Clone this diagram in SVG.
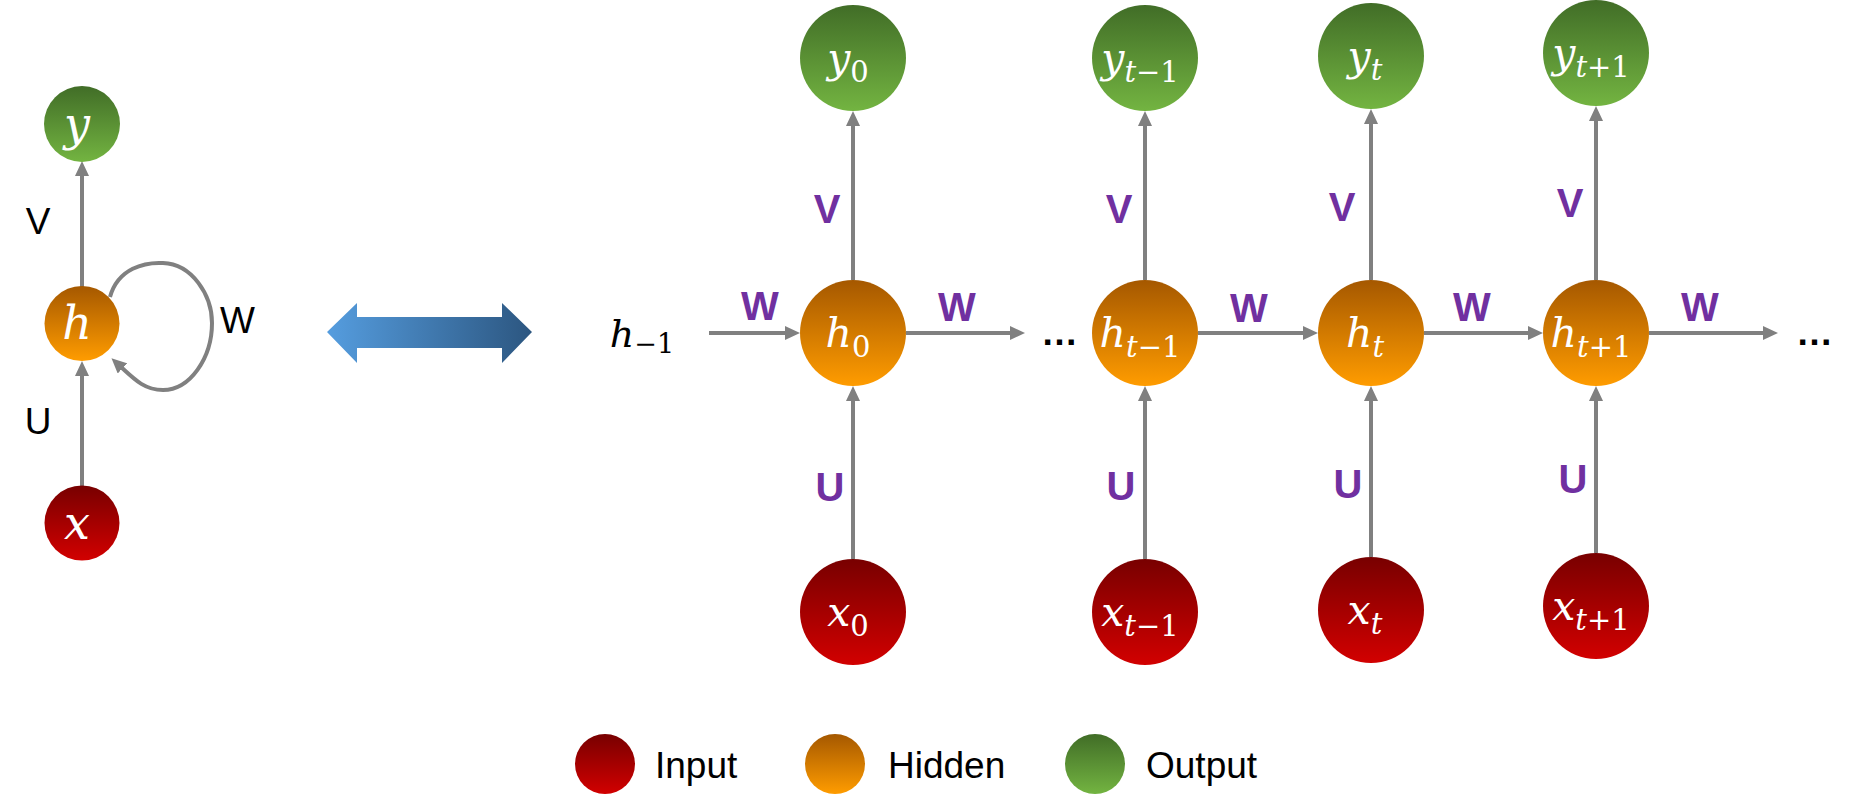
<svg xmlns="http://www.w3.org/2000/svg" width="1854" height="808" viewBox="0 0 1854 808">
<style>
.ln{stroke:#808080;stroke-width:4;fill:none}
.m{font-family:"DejaVu Serif",serif;font-style:italic;font-size:41px;fill:#fff;text-anchor:middle}
.ml{font-family:"DejaVu Serif",serif;font-style:italic;font-size:46px;fill:#fff;text-anchor:middle}
.s{font-size:29px;font-style:normal}
.si{font-size:29px;font-style:italic}
.p{font-family:"Liberation Sans",Arial,sans-serif;font-weight:bold;font-size:40px;fill:#7030a0;text-anchor:middle}
.k{font-family:"Liberation Sans",Arial,sans-serif;font-size:37px;fill:#000}
</style>
<defs>
<linearGradient id="gG" x1="0" y1="0" x2="0" y2="1"><stop offset="0" stop-color="#416d27"/><stop offset="1" stop-color="#73b441"/></linearGradient>
<linearGradient id="gO" x1="0" y1="0" x2="0" y2="1"><stop offset="0" stop-color="#a55800"/><stop offset="1" stop-color="#ff9c00"/></linearGradient>
<linearGradient id="gR" x1="0" y1="0" x2="0" y2="1"><stop offset="0" stop-color="#780000"/><stop offset="1" stop-color="#d20000"/></linearGradient>
<linearGradient id="gB" x1="0" y1="0" x2="1" y2="0"><stop offset="0" stop-color="#559ddf"/><stop offset="1" stop-color="#2c5680"/></linearGradient>
<marker id="ah" viewBox="0 0 15 14" refX="2" refY="7" markerWidth="15" markerHeight="14" markerUnits="userSpaceOnUse" orient="auto"><path d="M0,0 L15,7 L0,14 z" fill="#808080"/></marker>
</defs>

<g id="connectors">
<line class="ln" x1="82" y1="287" x2="82" y2="174" marker-end="url(#ah)"/>
<line class="ln" x1="82" y1="486" x2="82" y2="374" marker-end="url(#ah)"/>
<path class="ln" d="M110,297 C118,268 145,262 163,263 C192,264 212,295 212,323 C212,358 190,390 163,390 C145,390 135,380 121,367" marker-end="url(#ah)"/>
<line class="ln" x1="709" y1="333" x2="787" y2="333" marker-end="url(#ah)"/>
<line class="ln" x1="906" y1="333" x2="1012" y2="333" marker-end="url(#ah)"/>
<line class="ln" x1="1198" y1="333" x2="1305" y2="333" marker-end="url(#ah)"/>
<line class="ln" x1="1424" y1="333" x2="1530" y2="333" marker-end="url(#ah)"/>
<line class="ln" x1="1649" y1="333" x2="1765" y2="333" marker-end="url(#ah)"/>
<line class="ln" x1="853" y1="280" x2="853" y2="124" marker-end="url(#ah)"/>
<line class="ln" x1="1145" y1="280" x2="1145" y2="124" marker-end="url(#ah)"/>
<line class="ln" x1="1371" y1="280" x2="1371" y2="122" marker-end="url(#ah)"/>
<line class="ln" x1="1596" y1="280" x2="1596" y2="119" marker-end="url(#ah)"/>
<line class="ln" x1="853" y1="559" x2="853" y2="399" marker-end="url(#ah)"/>
<line class="ln" x1="1145" y1="559" x2="1145" y2="399" marker-end="url(#ah)"/>
<line class="ln" x1="1371" y1="557" x2="1371" y2="399" marker-end="url(#ah)"/>
<line class="ln" x1="1596" y1="553" x2="1596" y2="399" marker-end="url(#ah)"/>
</g>

<g id="labels-folded">
<text class="k" x="38" y="234" text-anchor="middle">V</text>
<text class="k" x="38" y="434" text-anchor="middle">U</text>
<text class="k" x="220" y="333">W</text>
</g>

<g id="labels-unrolled">
<text class="p" x="760" y="320">W</text>
<text class="p" x="957" y="321">W</text>
<text class="p" x="1249" y="322">W</text>
<text class="p" x="1472" y="321">W</text>
<text class="p" x="1700" y="321">W</text>
<text class="p" x="827" y="223">V</text>
<text class="p" x="1119" y="223">V</text>
<text class="p" x="1342" y="221">V</text>
<text class="p" x="1570" y="217">V</text>
<text class="p" x="830" y="501">U</text>
<text class="p" x="1121" y="500">U</text>
<text class="p" x="1348" y="498">U</text>
<text class="p" x="1573" y="493">U</text>
<text class="k" x="1041" y="345" font-size="32" font-weight="bold">…</text>
<text class="k" x="1796" y="345" font-size="32" font-weight="bold">…</text>
</g>

<g id="node-y"><circle cx="82" cy="124" r="38" fill="url(#gG)"/><text class="ml" x="77" y="140">y</text></g>
<g id="node-h"><circle cx="82" cy="323.5" r="37.5" fill="url(#gO)"/><text class="ml" x="77" y="339">h</text></g>
<g id="node-x"><circle cx="82" cy="523" r="37.5" fill="url(#gR)"/><text class="ml" x="77" y="539">x</text></g>

<g id="double-arrow"><polygon points="327,332 357,303 357,317 502,317 502,303 532,332 502,363 502,348 357,348 357,363" fill="url(#gB)"/></g>

<g id="h-minus1"><text class="m" x="642" y="347" style="fill:#000;font-size:38px">h<tspan class="s" dy="6" style="font-size:27px">−1</tspan></text></g>

<g id="node-y0"><circle cx="853" cy="58" r="53" fill="url(#gG)"/><text class="m" x="848" y="72">y<tspan class="s" dy="10">0</tspan></text></g>
<g id="node-h0"><circle cx="853" cy="333" r="53" fill="url(#gO)"/><text class="m" x="848" y="347">h<tspan class="s" dy="10">0</tspan></text></g>
<g id="node-x0"><circle cx="853" cy="612" r="53" fill="url(#gR)"/><text class="m" x="848" y="626">x<tspan class="s" dy="10">0</tspan></text></g>

<g id="node-yt-1"><circle cx="1145" cy="58" r="53" fill="url(#gG)"/><text class="m" x="1140" y="72">y<tspan class="si" dy="10">t</tspan><tspan class="s">−1</tspan></text></g>
<g id="node-ht-1"><circle cx="1145" cy="333" r="53" fill="url(#gO)"/><text class="m" x="1140" y="347">h<tspan class="si" dy="10">t</tspan><tspan class="s">−1</tspan></text></g>
<g id="node-xt-1"><circle cx="1145" cy="612" r="53" fill="url(#gR)"/><text class="m" x="1140" y="626">x<tspan class="si" dy="10">t</tspan><tspan class="s">−1</tspan></text></g>

<g id="node-yt"><circle cx="1371" cy="56" r="53" fill="url(#gG)"/><text class="m" x="1365" y="70">y<tspan class="si" dy="10">t</tspan></text></g>
<g id="node-ht"><circle cx="1371" cy="333" r="53" fill="url(#gO)"/><text class="m" x="1365" y="347">h<tspan class="si" dy="10">t</tspan></text></g>
<g id="node-xt"><circle cx="1371" cy="610" r="53" fill="url(#gR)"/><text class="m" x="1365" y="624">x<tspan class="si" dy="10">t</tspan></text></g>

<g id="node-yt+1"><circle cx="1596" cy="53" r="53" fill="url(#gG)"/><text class="m" x="1591" y="67">y<tspan class="si" dy="10">t</tspan><tspan class="s">+1</tspan></text></g>
<g id="node-ht+1"><circle cx="1596" cy="333" r="53" fill="url(#gO)"/><text class="m" x="1591" y="347">h<tspan class="si" dy="10">t</tspan><tspan class="s">+1</tspan></text></g>
<g id="node-xt+1"><circle cx="1596" cy="606" r="53" fill="url(#gR)"/><text class="m" x="1591" y="620">x<tspan class="si" dy="10">t</tspan><tspan class="s">+1</tspan></text></g>

<g id="legend">
<circle cx="605" cy="764" r="30" fill="url(#gR)"/><text class="k" x="655" y="778">Input</text>
<circle cx="835" cy="764" r="30" fill="url(#gO)"/><text class="k" x="888" y="778">Hidden</text>
<circle cx="1095" cy="764" r="30" fill="url(#gG)"/><text class="k" x="1146" y="778">Output</text>
</g>
</svg>
